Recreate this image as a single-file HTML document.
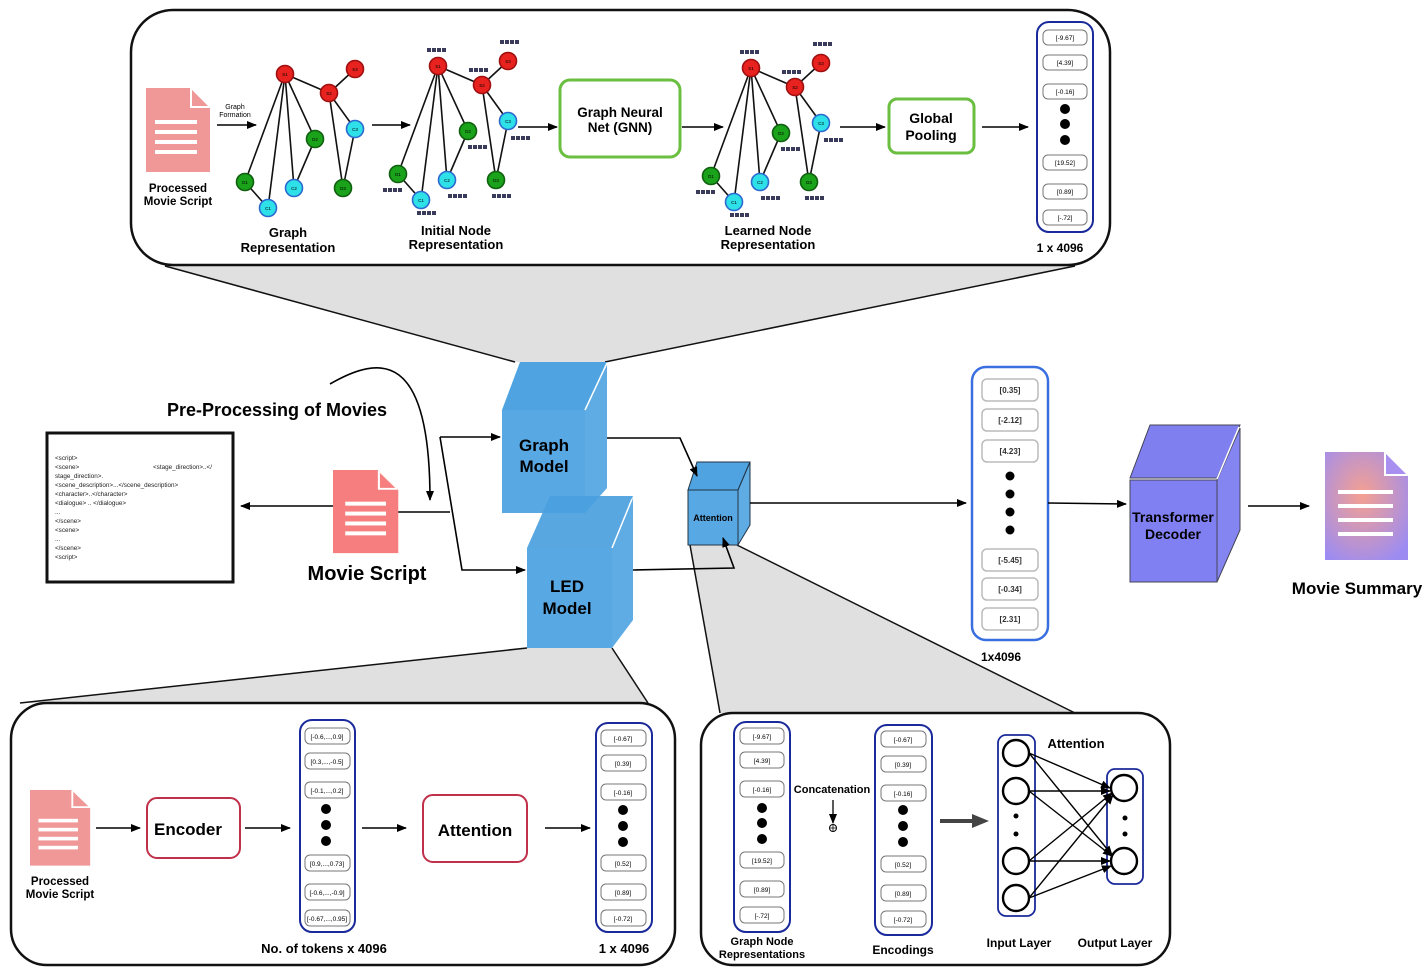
<!DOCTYPE html>
<html><head><meta charset="utf-8"><style>
html,body{margin:0;padding:0;background:#fff}
svg{display:block}
text{font-family:"Liberation Sans",sans-serif}
.b{font-weight:bold}
.it rect{fill:#fff;stroke:#777;stroke-width:1}
.it text{font-size:6.5px;text-anchor:middle}
</style></head><body>
<svg width="1426" height="978" viewBox="0 0 1426 978" xmlns="http://www.w3.org/2000/svg">
<defs>
<marker id="ar" markerWidth="10" markerHeight="10" refX="9" refY="5" orient="auto" markerUnits="userSpaceOnUse"><path d="M0,1 L10,5 L0,9 z" fill="#000"/></marker>
<radialGradient id="sg" cx="0.45" cy="0.4" r="0.7"><stop offset="0" stop-color="#f5a090"/><stop offset="1" stop-color="#9c8cf2"/></radialGradient>
<g id="graph">
 <g stroke="#111" stroke-width="1.6">
  <line x1="0" y1="0" x2="44" y2="19"/><line x1="44" y1="19" x2="70" y2="-5"/>
  <line x1="0" y1="0" x2="-40" y2="108"/><line x1="0" y1="0" x2="-17" y2="134"/>
  <line x1="0" y1="0" x2="9" y2="114"/><line x1="0" y1="0" x2="30" y2="65"/>
  <line x1="30" y1="65" x2="9" y2="114"/><line x1="-40" y1="108" x2="-17" y2="134"/>
  <line x1="44" y1="19" x2="70" y2="55"/><line x1="44" y1="19" x2="58" y2="114"/>
  <line x1="70" y1="55" x2="58" y2="114"/>
 </g>
 <g stroke-width="1.6" font-size="4.5" text-anchor="middle">
  <circle cx="0" cy="0" r="8.5" fill="#e8231f" stroke="#a01010"/>
  <circle cx="70" cy="-5" r="8.5" fill="#e8231f" stroke="#a01010"/>
  <circle cx="44" cy="19" r="8.5" fill="#e8231f" stroke="#a01010"/>
  <circle cx="70" cy="55" r="8.5" fill="#2ee0e8" stroke="#2d6ad0"/>
  <circle cx="30" cy="65" r="8.5" fill="#1aa31a" stroke="#106010"/>
  <circle cx="-40" cy="108" r="8.5" fill="#1aa31a" stroke="#106010"/>
  <circle cx="9" cy="114" r="8.5" fill="#2ee0e8" stroke="#2d6ad0"/>
  <circle cx="58" cy="114" r="8.5" fill="#1aa31a" stroke="#106010"/>
  <circle cx="-17" cy="134" r="8.5" fill="#2ee0e8" stroke="#2d6ad0"/>
  <text x="0" y="2">S1</text><text x="70" y="-3">S3</text><text x="44" y="21">S2</text>
  <text x="70" y="57">C3</text><text x="30" y="67">D2</text><text x="-40" y="110">D1</text>
  <text x="9" y="116">C2</text><text x="58" y="116">D3</text><text x="-17" y="136">C1</text>
 </g>
</g>
<g id="dashes" stroke="#3a3a5a" stroke-width="4" stroke-dasharray="4,1">
 <line x1="-11" y1="-16" x2="9" y2="-16"/><line x1="62" y1="-24" x2="82" y2="-24"/>
 <line x1="31" y1="4" x2="51" y2="4"/><line x1="73" y1="72" x2="92" y2="72"/>
 <line x1="30" y1="81" x2="50" y2="81"/><line x1="-55" y1="124" x2="-36" y2="124"/>
 <line x1="-21" y1="147" x2="-2" y2="147"/><line x1="10" y1="130" x2="29" y2="130"/>
 <line x1="54" y1="130" x2="74" y2="130"/>
</g>
<g id="doc"><path d="M0,0 H44 L64,20 V84 H0 Z" fill="#f09898"/><path d="M44,0 V20 H64 Z" fill="#fff"/><path d="M46,2 V18 H62 Z" fill="#f09898"/>
<g fill="#fff"><rect x="9" y="32" width="42" height="4"/><rect x="9" y="42" width="42" height="4"/><rect x="9" y="52" width="42" height="4"/><rect x="9" y="62" width="42" height="4"/></g></g>
</defs>

<polygon points="165,266 1075,266 605,362 515,362" fill="#e0e0e0"/>
<line x1="165" y1="266" x2="515" y2="362" stroke="#111" stroke-width="1.5"/>
<line x1="1075" y1="266" x2="605" y2="362" stroke="#111" stroke-width="1.5"/>
<polygon points="527,648 612,648 648,703 20,703" fill="#e0e0e0"/>
<line x1="527" y1="648" x2="20" y2="703" stroke="#111" stroke-width="1.5"/>
<line x1="612" y1="648" x2="648" y2="703" stroke="#111" stroke-width="1.5"/>
<polygon points="690,545 737,545 1075,713 720,713" fill="#e0e0e0"/>
<line x1="690" y1="545" x2="720" y2="713" stroke="#111" stroke-width="1.5"/>
<line x1="737" y1="545" x2="1075" y2="713" stroke="#111" stroke-width="1.5"/>

<rect x="131" y="10" width="979" height="255" rx="42" fill="#fff" stroke="#111" stroke-width="2.5"/>
<use href="#doc" x="146" y="88"/>
<text x="178" y="192" font-size="11.5" class="b" text-anchor="middle">Processed</text>
<text x="178" y="205" font-size="11.5" class="b" text-anchor="middle">Movie Script</text>
<text x="235" y="109" font-size="7" text-anchor="middle">Graph</text>
<text x="235" y="117" font-size="7" text-anchor="middle">Formation</text>
<g stroke="#000" stroke-width="1.6" marker-end="url(#ar)">
<line x1="217" y1="125" x2="256" y2="125"/><line x1="372" y1="125" x2="410" y2="125"/>
<line x1="518" y1="127" x2="557" y2="127"/><line x1="682" y1="127" x2="723" y2="127"/>
<line x1="840" y1="127" x2="885" y2="127"/><line x1="982" y1="127" x2="1028" y2="127"/>
</g>
<use href="#graph" x="285" y="74"/>
<use href="#graph" x="438" y="66"/><use href="#dashes" x="438" y="66"/>
<use href="#graph" x="751" y="68"/><use href="#dashes" x="751" y="68"/>
<text x="288" y="237" font-size="13" class="b" text-anchor="middle">Graph</text>
<text x="288" y="252" font-size="13" class="b" text-anchor="middle">Representation</text>
<text x="456" y="235" font-size="13" class="b" text-anchor="middle">Initial Node</text>
<text x="456" y="249" font-size="13" class="b" text-anchor="middle">Representation</text>
<text x="768" y="235" font-size="13" class="b" text-anchor="middle">Learned Node</text>
<text x="768" y="249" font-size="13" class="b" text-anchor="middle">Representation</text>
<rect x="560" y="80" width="120" height="77" rx="10" fill="#fff" stroke="#6abf40" stroke-width="3"/>
<text x="620" y="117" font-size="13.5" class="b" text-anchor="middle">Graph Neural</text>
<text x="620" y="132" font-size="13.5" class="b" text-anchor="middle">Net (GNN)</text>
<rect x="889" y="99" width="85" height="54" rx="8" fill="#fff" stroke="#6abf40" stroke-width="3"/>
<text x="931" y="123" font-size="14" class="b" text-anchor="middle">Global</text>
<text x="931" y="140" font-size="14" class="b" text-anchor="middle">Pooling</text>
<rect x="1037" y="22" width="56" height="210" rx="12" fill="#fff" stroke="#1a2a9a" stroke-width="2"/>
<g class="it">
<rect x="1043" y="30" width="44" height="15" rx="5"/><text x="1065" y="40">[-9.67]</text>
<rect x="1043" y="55" width="44" height="15" rx="5"/><text x="1065" y="65">[4.39]</text>
<rect x="1043" y="84" width="44" height="15" rx="5"/><text x="1065" y="94">[-0.16]</text>
<rect x="1043" y="155" width="44" height="15" rx="5"/><text x="1065" y="165">[19.52]</text>
<rect x="1043" y="184" width="44" height="15" rx="5"/><text x="1065" y="194">[0.89]</text>
<rect x="1043" y="210" width="44" height="15" rx="5"/><text x="1065" y="220">[-.72]</text>
</g>
<circle cx="1065" cy="109" r="5"/><circle cx="1065" cy="124" r="5"/><circle cx="1065" cy="140" r="5"/>
<text x="1060" y="252" font-size="12" class="b" text-anchor="middle">1 x 4096</text>

<text x="277" y="416" font-size="18" class="b" text-anchor="middle">Pre-Processing of Movies</text>
<path d="M330,384 C380,355 430,350 430,500" fill="none" stroke="#000" stroke-width="1.6" marker-end="url(#ar)"/>
<rect x="47" y="433" width="186" height="149" fill="#fff" stroke="#111" stroke-width="3"/>
<g font-size="6.3" fill="#222">
<text x="55" y="460">&lt;script&gt;</text>
<text x="55" y="469">&lt;scene&gt;</text><text x="153" y="469">&lt;stage_direction&gt;..&lt;/</text>
<text x="55" y="478">stage_direction&gt;.</text>
<text x="55" y="487">&lt;scene_description&gt;...&lt;/scene_description&gt;</text>
<text x="55" y="496">&lt;character&gt;..&lt;/character&gt;</text>
<text x="55" y="505">&lt;dialogue&gt; .. &lt;/dialogue&gt;</text>
<text x="55" y="514">...</text>
<text x="55" y="523">&lt;/scene&gt;</text>
<text x="55" y="532">&lt;scene&gt;</text>
<text x="55" y="541">...</text>
<text x="55" y="550">&lt;/scene&gt;</text>
<text x="55" y="559">&lt;script&gt;</text>
</g>
<line x1="333" y1="506" x2="241" y2="506" stroke="#000" stroke-width="1.6" marker-end="url(#ar)"/>
<line x1="398" y1="512" x2="450" y2="512" stroke="#000" stroke-width="1.6"/>
<g transform="translate(333,470) scale(1.02,0.99)"><path d="M0,0 H44 L64,20 V84 H0 Z" fill="#f77e7e"/><path d="M44,0 V20 H64 Z" fill="#fff"/><path d="M46,3 V18 H61 Z" fill="#f77e7e"/>
<g fill="#fff"><rect x="12" y="32" width="40" height="4"/><rect x="12" y="42" width="40" height="4"/><rect x="12" y="52" width="40" height="4"/><rect x="12" y="62" width="40" height="4"/></g></g>
<text x="367" y="580" font-size="20" class="b" text-anchor="middle">Movie Script</text>
<polyline points="440,437 500,437" fill="none" stroke="#000" stroke-width="1.6" marker-end="url(#ar)"/>
<polyline points="440,437 462,570 525,570" fill="none" stroke="#000" stroke-width="1.6" marker-end="url(#ar)"/>

<polygon points="502,410 520,362 607,362 585,410" fill="#4ea3e0"/>
<polygon points="585,410 607,362 607,488 585,513" fill="#5fabe4"/>
<rect x="502" y="410" width="83" height="103" fill="#58a8e4"/>
<line x1="585" y1="410" x2="607" y2="363" stroke="#fff" stroke-width="1.5"/>
<text x="544" y="451" font-size="17" class="b" text-anchor="middle">Graph</text>
<text x="544" y="472" font-size="17" class="b" text-anchor="middle">Model</text>
<polygon points="527,548 550,496 633,496 612,548" fill="#4a9fde" fill-opacity="0.92"/>
<polygon points="612,548 633,498 633,620 612,648" fill="#5fabe4"/>
<rect x="527" y="548" width="85" height="100" fill="#58a8e4"/>
<line x1="612" y1="548" x2="632" y2="499" stroke="#fff" stroke-width="1.5"/>
<text x="567" y="592" font-size="17" class="b" text-anchor="middle">LED</text>
<text x="567" y="614" font-size="17" class="b" text-anchor="middle">Model</text>
<polygon points="688,490 697,462 750,462 738,490" fill="#4ea3e0" stroke="#234" stroke-width="1"/>
<polygon points="738,490 750,462 750,525 738,545" fill="#5fabe4" stroke="#234" stroke-width="1"/>
<rect x="688" y="490" width="50" height="55" fill="#58a8e4" stroke="#234" stroke-width="1"/>
<text x="713" y="521" font-size="9" class="b" text-anchor="middle">Attention</text>
<polyline points="607,438 680,438 697,476" fill="none" stroke="#000" stroke-width="1.6" marker-end="url(#ar)"/>
<polyline points="633,570 734,568 723,538" fill="none" stroke="#000" stroke-width="1.6" marker-end="url(#ar)"/>
<line x1="750" y1="503" x2="966" y2="503" stroke="#000" stroke-width="1.6" marker-end="url(#ar)"/>

<rect x="972" y="367" width="76" height="273" rx="14" fill="#fff" stroke="#3a6fe0" stroke-width="2.5"/>
<g font-size="8" class="b" text-anchor="middle" fill="#333">
<rect x="982" y="379" width="56" height="22" rx="5" fill="#fff" stroke="#bbb" stroke-width="1.5"/><text x="1010" y="393">[0.35]</text>
<rect x="982" y="409" width="56" height="22" rx="5" fill="#fff" stroke="#bbb" stroke-width="1.5"/><text x="1010" y="423">[-2.12]</text>
<rect x="982" y="440" width="56" height="22" rx="5" fill="#fff" stroke="#bbb" stroke-width="1.5"/><text x="1010" y="454">[4.23]</text>
<rect x="982" y="549" width="56" height="22" rx="5" fill="#fff" stroke="#bbb" stroke-width="1.5"/><text x="1010" y="563">[-5.45]</text>
<rect x="982" y="578" width="56" height="22" rx="5" fill="#fff" stroke="#bbb" stroke-width="1.5"/><text x="1010" y="592">[-0.34]</text>
<rect x="982" y="608" width="56" height="22" rx="5" fill="#fff" stroke="#bbb" stroke-width="1.5"/><text x="1010" y="622">[2.31]</text>
</g>
<circle cx="1010" cy="476" r="4.5"/><circle cx="1010" cy="494" r="4.5"/><circle cx="1010" cy="512" r="4.5"/><circle cx="1010" cy="530" r="4.5"/>
<text x="1001" y="661" font-size="12" class="b" text-anchor="middle">1x4096</text>
<line x1="1048" y1="503" x2="1126" y2="504" stroke="#000" stroke-width="1.6" marker-end="url(#ar)"/>

<polygon points="1130,478 1150,425 1240,425 1217,478" fill="#7f7ff0" stroke="#445" stroke-width="1"/>
<polygon points="1217,480 1240,428 1240,530 1217,582" fill="#8585f2" stroke="#445" stroke-width="1"/>
<rect x="1130" y="480" width="87" height="102" fill="#8080f2" stroke="#445" stroke-width="1"/>
<line x1="1217" y1="479" x2="1239" y2="427" stroke="#fff" stroke-width="1.5"/>
<text x="1173" y="522" font-size="14" class="b" text-anchor="middle">Transformer</text>
<text x="1173" y="539" font-size="14" class="b" text-anchor="middle">Decoder</text>
<line x1="1248" y1="506" x2="1309" y2="506" stroke="#000" stroke-width="1.6" marker-end="url(#ar)"/>
<path d="M1325,452 H1384 L1408,476 V560 H1325 Z" fill="url(#sg)"/>
<path d="M1384,452 V476 H1408 Z" fill="#fff"/><path d="M1386,454 V474 H1406 Z" fill="#a890f0"/>
<g fill="#fff"><rect x="1338" y="490" width="55" height="4"/><rect x="1338" y="504" width="55" height="4"/><rect x="1338" y="518" width="55" height="4"/><rect x="1338" y="532" width="55" height="4"/></g>
<text x="1357" y="594" font-size="17" class="b" text-anchor="middle">Movie Summary</text>

<rect x="11" y="703" width="664" height="262" rx="36" fill="#fff" stroke="#111" stroke-width="2.5"/>
<use href="#doc" x="30" y="790" transform="translate(30,790) scale(0.94,0.9) translate(-30,-790)"/>
<text x="60" y="885" font-size="11.5" class="b" text-anchor="middle">Processed</text>
<text x="60" y="898" font-size="11.5" class="b" text-anchor="middle">Movie Script</text>
<g stroke="#000" stroke-width="1.6" marker-end="url(#ar)">
<line x1="96" y1="828" x2="140" y2="828"/><line x1="245" y1="828" x2="290" y2="828"/>
<line x1="362" y1="828" x2="406" y2="828"/><line x1="545" y1="828" x2="590" y2="828"/>
</g>
<rect x="147" y="798" width="93" height="60" rx="10" fill="#fff" stroke="#c0304a" stroke-width="2"/>
<text x="188" y="835" font-size="17" class="b" text-anchor="middle">Encoder</text>
<rect x="423" y="795" width="104" height="67" rx="10" fill="#fff" stroke="#c0304a" stroke-width="2"/>
<text x="475" y="836" font-size="17" class="b" text-anchor="middle">Attention</text>
<rect x="300" y="720" width="55" height="212" rx="12" fill="#fff" stroke="#1a2a9a" stroke-width="2"/>
<g class="it">
<rect x="305" y="728" width="45" height="16" rx="5"/><text x="327" y="739">[-0.6,...,0.9]</text>
<rect x="305" y="753" width="45" height="16" rx="5"/><text x="327" y="764">[0.3,...,-0.5]</text>
<rect x="305" y="782" width="45" height="16" rx="5"/><text x="327" y="793">[-0.1,...,0.2]</text>
<rect x="305" y="855" width="45" height="16" rx="5"/><text x="327" y="866">[0.9,...,0.73]</text>
<rect x="305" y="884" width="45" height="16" rx="5"/><text x="327" y="895">[-0.6,...,-0.9]</text>
<rect x="305" y="910" width="45" height="16" rx="5"/><text x="327" y="921">[-0.67,...,0.95]</text>
</g>
<circle cx="326" cy="809" r="5"/><circle cx="326" cy="825" r="5"/><circle cx="326" cy="841" r="5"/>
<text x="324" y="953" font-size="13" class="b" text-anchor="middle">No. of tokens x 4096</text>
<rect x="596" y="723" width="56" height="209" rx="12" fill="#fff" stroke="#1a2a9a" stroke-width="2"/>
<g class="it">
<rect x="601" y="730" width="45" height="16" rx="5"/><text x="623" y="741">[-0.67]</text>
<rect x="601" y="755" width="45" height="16" rx="5"/><text x="623" y="766">[0.39]</text>
<rect x="601" y="784" width="45" height="16" rx="5"/><text x="623" y="795">[-0.16]</text>
<rect x="601" y="855" width="45" height="16" rx="5"/><text x="623" y="866">[0.52]</text>
<rect x="601" y="884" width="45" height="16" rx="5"/><text x="623" y="895">[0.89]</text>
<rect x="601" y="910" width="45" height="16" rx="5"/><text x="623" y="921">[-0.72]</text>
</g>
<circle cx="623" cy="810" r="5"/><circle cx="623" cy="826" r="5"/><circle cx="623" cy="842" r="5"/>
<text x="624" y="953" font-size="13" class="b" text-anchor="middle">1 x 4096</text>

<rect x="701" y="713" width="469" height="252" rx="32" fill="#fff" stroke="#111" stroke-width="2.5"/>
<rect x="734" y="722" width="56" height="210" rx="12" fill="#fff" stroke="#1a2a9a" stroke-width="2"/>
<g class="it">
<rect x="740" y="728" width="44" height="16" rx="5"/><text x="762" y="739">[-9.67]</text>
<rect x="740" y="752" width="44" height="16" rx="5"/><text x="762" y="763">[4.39]</text>
<rect x="740" y="781" width="44" height="16" rx="5"/><text x="762" y="792">[-0.16]</text>
<rect x="740" y="852" width="44" height="16" rx="5"/><text x="762" y="863">[19.52]</text>
<rect x="740" y="881" width="44" height="16" rx="5"/><text x="762" y="892">[0.89]</text>
<rect x="740" y="907" width="44" height="16" rx="5"/><text x="762" y="918">[-.72]</text>
</g>
<circle cx="762" cy="808" r="5"/><circle cx="762" cy="823" r="5"/><circle cx="762" cy="839" r="5"/>
<text x="762" y="945" font-size="11" class="b" text-anchor="middle">Graph Node</text>
<text x="762" y="958" font-size="11" class="b" text-anchor="middle">Representations</text>
<text x="832" y="793" font-size="11" class="b" text-anchor="middle">Concatenation</text>
<line x1="833" y1="800" x2="833" y2="823" stroke="#000" stroke-width="1.3" marker-end="url(#ar)"/>
<circle cx="833" cy="828" r="3.5" fill="none" stroke="#000" stroke-width="1"/><path d="M829.5,828 H836.5 M833,824.5 V831.5" stroke="#000" stroke-width="0.8"/>
<rect x="875" y="725" width="57" height="210" rx="12" fill="#fff" stroke="#1a2a9a" stroke-width="2"/>
<g class="it">
<rect x="881" y="731" width="45" height="16" rx="5"/><text x="903" y="742">[-0.67]</text>
<rect x="881" y="756" width="45" height="16" rx="5"/><text x="903" y="767">[0.39]</text>
<rect x="881" y="785" width="45" height="16" rx="5"/><text x="903" y="796">[-0.16]</text>
<rect x="881" y="856" width="45" height="16" rx="5"/><text x="903" y="867">[0.52]</text>
<rect x="881" y="885" width="45" height="16" rx="5"/><text x="903" y="896">[0.89]</text>
<rect x="881" y="911" width="45" height="16" rx="5"/><text x="903" y="922">[-0.72]</text>
</g>
<circle cx="903" cy="810" r="5"/><circle cx="903" cy="826" r="5"/><circle cx="903" cy="842" r="5"/>
<text x="903" y="954" font-size="12" class="b" text-anchor="middle">Encodings</text>
<line x1="940" y1="821" x2="974" y2="821" stroke="#444" stroke-width="4"/>
<path d="M972,814 L989,821 L972,828 Z" fill="#444"/>
<rect x="998" y="735" width="37" height="181" rx="8" fill="#fff" stroke="#1a2a9a" stroke-width="1.8"/>
<rect x="1107" y="769" width="36" height="115" rx="8" fill="#fff" stroke="#1a2a9a" stroke-width="1.8"/>
<g stroke="#000" stroke-width="1.4" marker-end="url(#ar)">
<line x1="1029" y1="753" x2="1110" y2="788"/><line x1="1029" y1="753" x2="1112" y2="855"/>
<line x1="1029" y1="791" x2="1110" y2="791"/><line x1="1029" y1="791" x2="1112" y2="856"/>
<line x1="1029" y1="861" x2="1112" y2="793"/><line x1="1029" y1="861" x2="1110" y2="861"/>
<line x1="1029" y1="898" x2="1113" y2="795"/><line x1="1029" y1="898" x2="1111" y2="866"/>
</g>
<g fill="#fff" stroke="#000" stroke-width="2.4">
<circle cx="1016" cy="753" r="13"/><circle cx="1016" cy="791" r="13"/><circle cx="1016" cy="861" r="13"/><circle cx="1016" cy="898" r="13"/>
<circle cx="1124" cy="788" r="13"/><circle cx="1124" cy="861" r="13"/>
</g>
<circle cx="1016" cy="816" r="2.5"/><circle cx="1016" cy="834" r="2.5"/>
<circle cx="1125" cy="818" r="2.5"/><circle cx="1125" cy="834" r="2.5"/>
<text x="1076" y="748" font-size="13" class="b" text-anchor="middle">Attention</text>
<text x="1019" y="947" font-size="12" class="b" text-anchor="middle">Input Layer</text>
<text x="1115" y="947" font-size="12" class="b" text-anchor="middle">Output Layer</text>
</svg>
</body></html>
